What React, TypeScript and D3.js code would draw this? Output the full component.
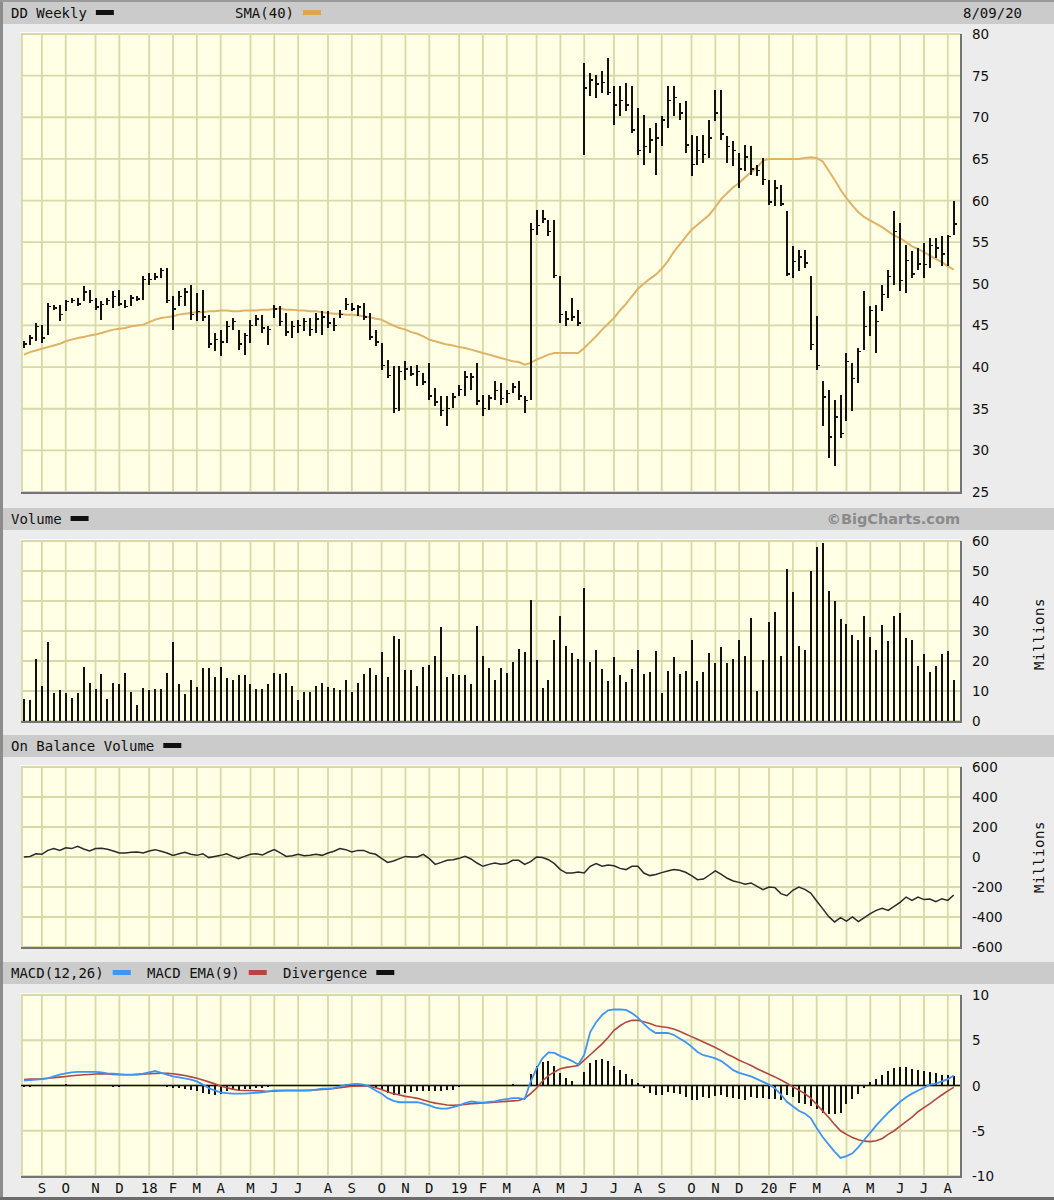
import React from 'react';
import * as d3 from 'd3';

const W = 1054;
const H = 1200;

// month tick labels and the weekly bar on which each month starts
const monthLabels = ['S', 'O', 'N', 'D', '18', 'F', 'M', 'A', 'M', 'J', 'J', 'A', 'S', 'O', 'N', 'D', '19', 'F', 'M', 'A', 'M', 'J', 'J', 'A', 'S', 'O', 'N', 'D', '20', 'F', 'M', 'A', 'M', 'J', 'J', 'A'];
const monthStart = [3, 7, 12, 16, 21, 25, 29, 33, 38, 42, 46, 51, 55, 60, 64, 68, 73, 77, 81, 86, 90, 94, 99, 103, 107, 112, 116, 120, 125, 129, 133, 138, 142, 147, 151, 155];

// weekly price bars (DD)
const high = [
  43.1, 43.9, 45.3, 45.1, 47.7, 47.5, 47.5, 48.1, 48.3, 48.3,
  49.7, 49.3, 48.3, 47.9, 48.3, 49.1, 49.3, 48.1, 48.7, 48.5,
  50.9, 51.3, 51.3, 51.9, 51.9, 48.5, 49.1, 49.5, 49.9, 48.9,
  49.3, 46.3, 44.1, 44.5, 45.5, 45.9, 44.5, 44.1, 45.7, 46.3,
  46.3, 44.9, 47.5, 47.3, 46.5, 45.5, 45.7, 45.9, 45.9, 46.5,
  46.7, 46.7, 45.9, 46.9, 48.3, 47.7, 47.5, 47.7, 46.5, 44.5,
  42.9, 40.9, 40.1, 40.1, 40.7, 40.1, 40.3, 39.3, 40.5, 37.5,
  36.5, 36.5, 36.9, 37.9, 39.5, 39.3, 40.5, 36.7, 36.7, 38.3,
  38.1, 37.3, 38.1, 38.3, 36.5, 57.3, 58.9, 58.9, 57.7, 57.7,
  50.9, 46.7, 48.3, 46.9, 76.5, 75.3, 75.1, 75.5, 77.1, 73.7,
  73.7, 74.1, 73.7, 71.1, 70.3, 68.7, 69.3, 70.1, 73.7, 73.7,
  71.7, 71.9, 67.9, 67.7, 67.9, 69.7, 73.3, 73.3, 67.7, 67.1,
  65.7, 66.7, 66.5, 64.3, 65.1, 62.5, 62.5, 61.9, 58.7, 54.5,
  54.1, 54.1, 50.9, 46.1, 38.3, 37.3, 36.1, 36.7, 41.7, 40.5,
  42.3, 49.1, 47.3, 47.5, 49.9, 51.7, 58.7, 57.3, 54.7, 53.9,
  54.3, 54.9, 55.5, 55.5, 55.7, 55.9, 59.9,
];
const low = [
  42.3, 42.7, 43.1, 42.9, 43.9, 46.9, 45.5, 46.7, 47.7, 47.3,
  47.9, 47.7, 46.9, 45.7, 47.5, 47.1, 47.3, 47.1, 47.3, 47.9,
  48.1, 49.9, 50.5, 50.7, 47.7, 44.5, 47.3, 47.3, 45.7, 45.5,
  45.5, 42.3, 41.9, 41.3, 42.9, 44.5, 42.1, 41.5, 42.9, 44.9,
  44.1, 42.7, 45.9, 44.9, 43.7, 43.5, 44.1, 44.3, 43.7, 44.1,
  43.9, 44.7, 44.3, 45.9, 46.9, 46.7, 46.1, 45.7, 43.3, 42.5,
  39.7, 38.7, 34.5, 34.7, 38.5, 38.9, 37.7, 37.9, 36.1, 35.3,
  34.1, 32.9, 35.1, 36.5, 36.5, 37.3, 35.5, 34.1, 34.9, 36.1,
  35.5, 35.7, 36.9, 36.1, 34.5, 36.1, 55.9, 57.3, 55.7, 50.7,
  45.3, 44.9, 45.5, 44.9, 65.5, 72.5, 72.3, 72.9, 72.7, 69.1,
  70.1, 70.7, 68.1, 65.5, 64.3, 65.7, 63.1, 66.5, 68.7, 70.1,
  69.7, 65.7, 62.9, 64.3, 64.5, 65.1, 69.5, 67.3, 64.5, 64.1,
  61.5, 63.5, 63.1, 62.9, 61.9, 59.5, 59.3, 59.3, 50.9, 50.7,
  51.5, 51.9, 42.1, 39.7, 32.9, 29.1, 28.1, 31.5, 33.5, 34.7,
  38.1, 42.1, 43.7, 41.7, 46.7, 48.3, 49.9, 49.1, 48.9, 50.7,
  51.7, 50.7, 51.9, 53.1, 52.1, 52.1, 55.9,
];
const close = [
  42.8, 43.5, 44.9, 43.5, 47.3, 47.1, 46.3, 47.9, 48.0, 47.6,
  49.0, 48.0, 47.2, 47.5, 48.0, 48.5, 47.6, 47.3, 48.3, 48.2,
  50.5, 50.5, 50.8, 51.6, 48.0, 47.0, 48.5, 49.0, 46.3, 46.7,
  46.0, 42.8, 43.3, 43.0, 44.9, 45.5, 42.8, 43.8, 45.0, 45.8,
  44.7, 44.5, 47.0, 45.5, 44.2, 44.9, 45.0, 45.5, 44.5, 45.8,
  46.0, 45.3, 45.0, 46.3, 47.5, 47.0, 47.2, 46.0, 43.6, 43.0,
  40.2, 39.0, 35.0, 39.5, 39.8, 39.2, 39.5, 38.2, 36.5, 35.8,
  34.8, 35.0, 36.4, 37.3, 38.8, 38.8, 35.9, 35.0, 36.3, 37.2,
  36.2, 36.8, 37.6, 36.5, 36.0, 56.5, 57.0, 57.8, 56.3, 51.0,
  46.3, 45.8, 46.0, 45.3, 73.5, 74.5, 74.0, 74.2, 73.0, 71.5,
  72.0, 71.5, 68.5, 66.0, 66.5, 67.3, 67.5, 69.7, 72.0, 72.4,
  70.5, 66.7, 64.3, 66.0, 65.5, 67.5, 70.5, 68.0, 66.5, 66.0,
  63.8, 65.2, 63.8, 63.6, 62.5, 59.8, 61.5, 59.6, 51.2, 52.7,
  53.2, 52.5, 42.7, 40.2, 36.4, 31.6, 34.0, 32.0, 40.7, 38.6,
  41.9, 44.9, 46.8, 45.5, 48.7, 50.9, 56.3, 50.4, 52.8, 51.2,
  52.4, 52.3, 54.6, 54.3, 53.6, 55.7, 57.2,
];
const sma40 = [
  41.5, 41.8, 42.0, 42.2, 42.4, 42.6, 42.8, 43.1, 43.3, 43.5,
  43.6, 43.8, 43.9, 44.1, 44.3, 44.5, 44.6, 44.7, 44.9, 45.0,
  45.1, 45.4, 45.7, 45.9, 46.0, 46.1, 46.3, 46.4, 46.5, 46.6,
  46.6, 46.7, 46.7, 46.8, 46.8, 46.7, 46.7, 46.8, 46.8, 46.8,
  46.9, 46.9, 47.0, 47.0, 46.9, 46.9, 46.8, 46.8, 46.7, 46.7,
  46.6, 46.5, 46.4, 46.4, 46.3, 46.3, 46.2, 46.1, 46.0, 45.8,
  45.7, 45.3, 45.0, 44.7, 44.5, 44.2, 44.0, 43.7, 43.3, 43.1,
  42.9, 42.7, 42.6, 42.4, 42.3, 42.1, 41.9, 41.7, 41.5, 41.3,
  41.1, 40.9, 40.7, 40.6, 40.3, 40.5, 40.9, 41.2, 41.5, 41.7,
  41.7, 41.7, 41.7, 41.7, 42.3, 43.0, 43.7, 44.5, 45.2, 45.9,
  46.8, 47.6, 48.5, 49.4, 50.0, 50.6, 51.1, 51.8, 52.7, 53.8,
  54.7, 55.6, 56.5, 57.1, 57.7, 58.3, 59.2, 60.2, 60.9, 61.6,
  62.1, 62.8, 63.4, 64.0, 64.8, 65.0, 65.0, 65.0, 65.0, 65.0,
  65.0, 65.1, 65.2, 65.1, 64.7, 63.6, 62.5, 61.3, 60.3, 59.4,
  58.6, 58.0, 57.6, 57.2, 56.8, 56.3, 55.8, 55.5, 55.0, 54.5,
  54.2, 53.8, 53.4, 53.0, 52.6, 52.1, 51.7,
];

// weekly volume, millions
const volume = [
  7.2, 6.9, 20.6, 11.7, 26.3, 9.2, 10.2, 9.2, 7.8, 9.2,
  18.1, 12.8, 10.8, 15.7, 7.2, 12.8, 12.2, 16.1, 9.8, 5.3,
  11.1, 10.2, 10.8, 10.8, 16.1, 26.3, 12.2, 8.9, 13.7, 11.3,
  17.6, 17.6, 14.7, 18.1, 14.2, 13.7, 15.2, 15.2, 12.2, 10.8,
  10.8, 12.2, 16.1, 15.7, 16.1, 11.7, 6.9, 9.8, 9.8, 11.7,
  12.8, 11.3, 11.1, 10.2, 13.7, 9.8, 12.8, 15.7, 17.6, 15.2,
  23.0, 14.7, 28.3, 27.4, 17.1, 17.1, 11.7, 18.1, 18.6, 21.6,
  31.2, 14.7, 15.7, 15.2, 15.2, 12.2, 31.7, 21.6, 17.6, 13.7,
  17.6, 16.1, 19.6, 23.9, 23.0, 40.4, 20.2, 10.9, 13.8, 27.1,
  35.0, 25.1, 22.6, 20.7, 44.3, 19.7, 23.7, 17.3, 13.3, 21.2,
  15.2, 12.9, 17.3, 23.7, 15.8, 16.3, 23.2, 9.4, 16.7, 21.2,
  15.8, 16.7, 27.1, 13.3, 16.3, 22.6, 19.3, 24.7, 19.3, 20.7,
  27.1, 21.7, 34.5, 9.9, 20.2, 33.0, 36.4, 21.7, 50.7, 42.9,
  25.1, 23.7, 49.9, 58.1, 59.4, 43.4, 39.9, 34.0, 32.5, 28.6,
  27.1, 35.0, 28.1, 23.7, 32.1, 26.7, 35.0, 36.0, 27.6, 27.1,
  18.3, 22.2, 16.3, 18.3, 22.2, 23.2, 13.8,
];

// on balance volume, millions
const obv = [
  0, 4, 22, 18, 44, 56, 44, 62, 56, 71,
  53, 40, 56, 58, 51, 40, 27, 27, 31, 33,
  27, 40, 49, 38, 27, 11, 22, 31, 18, 11,
  22, -4, 4, 11, 22, 4, -11, 4, 18, 22,
  13, 33, 49, 27, 4, 9, 18, 9, 11, 18,
  11, 27, 38, 56, 49, 33, 44, 44, 27, 18,
  -9, -36, -27, -11, 4, 0, 0, 18, -11, -49,
  -36, -22, -18, -9, 4, -13, -40, -62, -49, -40,
  -49, -44, -22, -22, -49, -31, 0, -4, -18, -44,
  -84, -107, -107, -100, -107, -62, -44, -62, -53, -58,
  -76, -84, -62, -62, -107, -124, -116, -104, -93, -84,
  -89, -102, -124, -151, -147, -120, -93, -116, -142, -160,
  -169, -182, -173, -196, -218, -200, -204, -244, -258, -222,
  -200, -216, -240, -293, -344, -396, -433, -404, -427, -400,
  -431, -404, -378, -356, -342, -356, -329, -302, -267, -289,
  -267, -284, -280, -298, -278, -289, -253,
];

// MACD(12,26), its EMA(9) and divergence
const macd = [
  0.55, 0.6, 0.65, 0.7, 0.8, 1.0, 1.2, 1.35, 1.45, 1.5,
  1.5, 1.5, 1.5, 1.45, 1.35, 1.3, 1.25, 1.2, 1.2, 1.25,
  1.3, 1.45, 1.6, 1.4, 1.2, 1.0, 0.9, 0.8, 0.65, 0.45,
  0.1, -0.3, -0.55, -0.75, -0.85, -0.9, -0.9, -0.9, -0.85, -0.8,
  -0.75, -0.65, -0.55, -0.55, -0.55, -0.55, -0.55, -0.55, -0.55, -0.45,
  -0.35, -0.35, -0.3, -0.1, 0.05, 0.15, 0.18, 0.1, -0.15, -0.55,
  -0.9, -1.4, -1.7, -1.85, -1.85, -1.85, -1.85, -2.0, -2.2, -2.45,
  -2.55, -2.55, -2.4, -2.2, -1.95, -1.75, -1.85, -1.9, -1.8, -1.75,
  -1.6, -1.5, -1.4, -1.4, -1.5, 0.4, 1.9, 3.0, 3.65, 3.6,
  3.25, 3.0, 2.7, 2.3, 3.4, 5.9, 7.0, 7.8, 8.3, 8.4,
  8.4, 8.35, 8.0, 7.5, 6.8, 6.2, 5.8, 5.8, 5.8, 5.6,
  5.2, 4.8, 4.3, 3.7, 3.35, 3.2, 3.0, 2.7, 2.2, 1.7,
  1.4, 1.2, 1.0, 0.7, 0.4, 0.1, -0.3, -1.0, -1.8, -2.3,
  -2.8, -3.1, -3.6, -4.7, -5.7, -6.5, -7.3, -8.0, -7.8, -7.5,
  -6.8, -6.0, -5.2, -4.4, -3.7, -3.0, -2.4, -1.8, -1.3, -0.9,
  -0.55, -0.25, 0.1, 0.2, 0.45, 0.7, 1.1,
];
const macdSignal = [
  0.66, 0.7, 0.72, 0.75, 0.8, 0.87, 0.93, 1.0, 1.07, 1.13,
  1.18, 1.22, 1.27, 1.3, 1.27, 1.22, 1.18, 1.18, 1.18, 1.2,
  1.25, 1.3, 1.33, 1.36, 1.36, 1.3, 1.2, 1.1, 0.95, 0.8,
  0.6, 0.4, 0.18, -0.05, -0.25, -0.4, -0.52, -0.55, -0.55, -0.58,
  -0.62, -0.66, -0.62, -0.58, -0.55, -0.55, -0.55, -0.55, -0.52, -0.5,
  -0.45, -0.4, -0.33, -0.25, -0.15, -0.07, -0.05, -0.05, -0.07, -0.25,
  -0.45, -0.7, -0.9, -1.05, -1.2, -1.3, -1.42, -1.6, -1.8, -1.95,
  -2.05, -2.15, -2.2, -2.15, -2.1, -2.0, -1.97, -1.93, -1.9, -1.85,
  -1.8, -1.75, -1.7, -1.65, -1.4, -0.9, -0.3, 0.5, 1.1, 1.5,
  1.85, 2.0, 2.1, 2.2, 2.8, 3.4, 4.0, 4.6, 5.3, 6.1,
  6.6, 7.0, 7.2, 7.2, 7.05, 6.85, 6.6, 6.5, 6.4, 6.25,
  6.0, 5.7, 5.4, 5.1, 4.8, 4.5, 4.2, 3.85, 3.45, 3.15,
  2.8, 2.5, 2.2, 1.85, 1.55, 1.25, 0.95, 0.6, 0.25, -0.15,
  -0.5, -0.9, -1.4, -2.1, -2.8, -3.5, -4.3, -5.0, -5.4, -5.75,
  -6.0, -6.15, -6.2, -6.1, -5.85, -5.4, -5.0, -4.5, -4.0, -3.5,
  -2.9, -2.45, -2.0, -1.5, -1.05, -0.6, -0.2,
];
const divergence = [
  -0.15, -0.12, -0.1, -0.1, 0, 0.05, 0.08, 0.12, 0.1, 0.1,
  0.05, 0.02, 0, -0.05, -0.1, -0.12, -0.12, -0.1, -0.08, 0,
  0.05, 0.1, 0.1, 0.02, -0.2, -0.25, -0.3, -0.35, -0.45, -0.6,
  -0.8, -0.95, -1.0, -0.9, -0.6, -0.55, -0.5, -0.4, -0.35, -0.3,
  -0.3, -0.2, -0.05, 0, 0, 0, 0, 0, -0.02, 0,
  0.05, 0.05, 0.05, 0.1, 0.15, 0.2, 0.2, 0.12, -0.1, -0.3,
  -0.55, -0.85, -1.1, -0.95, -0.8, -0.7, -0.65, -0.65, -0.65, -0.65,
  -0.6, -0.55, -0.5, -0.2, 0, 0.05, 0.05, 0.02, 0, 0,
  0.05, 0.1, 0.12, 0.1, 0.05, 1.3, 2.2, 2.6, 2.7, 2.2,
  1.4, 0.8, 0.45, 0.1, 1.5, 2.5, 2.8, 2.9, 2.7, 2.2,
  1.7, 1.3, 0.75, 0.25, -0.3, -0.8, -1.0, -1.0, -0.7, -0.8,
  -0.9, -1.3, -1.55, -1.55, -1.3, -1.4, -1.2, -1.1, -1.3, -1.4,
  -1.5, -1.55, -1.3, -1.4, -1.4, -1.5, -1.5, -1.55, -1.1, -1.3,
  -1.9, -2.05, -2.3, -2.6, -3.0, -3.2, -3.2, -3.0, -2.05, -1.5,
  -0.9, -0.3, 0.37, 0.75, 1.2, 1.56, 1.95, 2.05, 2.0, 1.87,
  1.7, 1.56, 1.5, 1.4, 1.2, 1.2, 1.1,
];

const priceTicks = [25, 30, 35, 40, 45, 50, 55, 60, 65, 70, 75, 80];
const volumeTicks = [0, 10, 20, 30, 40, 50, 60];
const obvTicks = [-600, -400, -200, 0, 200, 400, 600];
const macdTicks = [-10, -5, 0, 5, 10];

const PLOT_L = 21;
const PLOT_R = 961;
const MONO = '"DejaVu Sans Mono", monospace';
const SANS = '"DejaVu Sans", sans-serif';
const GRID = '#d8d8a8';
const PLOT_BG = '#ffffe6';
const BAR_BG = '#cbcbcb';

const x = d3.scaleLinear().domain([0, high.length - 1]).range([24, 24 + (high.length - 1) * 5.96]);

const yPrice = d3.scaleLinear().domain([25, 80]).range([492, 34]);
const yVol = d3.scaleLinear().domain([0, 60]).range([721, 541]);
const yObv = d3.scaleLinear().domain([-600, 600]).range([947, 767]);
const yMacd = d3.scaleLinear().domain([-10, 10]).range([1176, 995]);

function Plot({ y, ticks }: { y: d3.ScaleLinear<number, number>; ticks: number[] }) {
  const [b, t] = y.range();
  return (
    <g>
      <rect x={PLOT_L - 1} y={t - 2} width={PLOT_R - PLOT_L + 1} height={2} fill="#fbfbfb" />
      <rect x={PLOT_L} y={t} width={PLOT_R - PLOT_L} height={b - t} fill={PLOT_BG} />
      {ticks.map((v) => (
        <line key={'h' + v} x1={PLOT_L} x2={PLOT_R} y1={y(v)} y2={y(v)} stroke={GRID} strokeWidth={1.8} />
      ))}
      <line x1={PLOT_L + 1} x2={PLOT_L + 1} y1={t} y2={b} stroke={GRID} strokeWidth={1.8} />
      {monthStart.map((i) => (
        <line key={'v' + i} x1={x(i)} x2={x(i)} y1={t} y2={b} stroke={GRID} strokeWidth={1.8} />
      ))}
      {ticks.map((v) => (
        <text key={'t' + v} x={972} y={y(v) + 5} fontFamily={SANS} fontSize={13.5} fill="#111">
          {v}
        </text>
      ))}
    </g>
  );
}

function Frame({ y }: { y: d3.ScaleLinear<number, number> }) {
  const [b, t] = y.range();
  return (
    <g stroke="#747474" strokeWidth={2}>
      <line x1={PLOT_L} x2={PLOT_R + 1} y1={b + 1} y2={b + 1} />
      <line x1={PLOT_R} x2={PLOT_R} y1={t} y2={b + 2} />
    </g>
  );
}

function Header({ y, items }: { y: number; items: { label: string; at: number; swatch?: string }[] }) {
  return (
    <g>
      <rect x={3} y={y} width={W - 3} height={22} fill={BAR_BG} />
      {items.map((it) => (
        <g key={it.label}>
          <text x={it.at} y={y + 16} fontFamily={MONO} fontSize={14} fill="#111">
            {it.label}
          </text>
          {it.swatch && (
            <rect x={it.at + it.label.length * 8.43 + 9} y={y + 8} width={18} height={5} fill={it.swatch} />
          )}
        </g>
      ))}
    </g>
  );
}

function Millions({ cy }: { cy: number }) {
  return (
    <text
      transform={`translate(1044,${cy}) rotate(-90)`}
      textAnchor="middle"
      fontFamily={MONO}
      fontSize={14}
      letterSpacing={0.6}
      fill="#111"
    >
      Millions
    </text>
  );
}

export default function App() {
  const idx = d3.range(high.length);
  const smaLine = d3.line<number>().x((i) => x(i)).y((i) => yPrice(sma40[i]))(idx) || '';
  const obvLine = d3.line<number>().x((i) => x(i)).y((i) => yObv(obv[i]))(idx) || '';
  const macdLine = d3.line<number>().x((i) => x(i)).y((i) => yMacd(macd[i]))(idx) || '';
  const sigLine = d3.line<number>().x((i) => x(i)).y((i) => yMacd(macdSignal[i]))(idx) || '';

  return (
    <svg
      width={W}
      height={H}
      viewBox={`0 0 ${W} ${H}`}
      style={{ position: 'absolute', left: 0, top: 0, display: 'block' }}
    >
      <rect x={0} y={0} width={W} height={H} fill="#ececec" />
      <rect x={0} y={0} width={3} height={H} fill="#8c8c8c" />
      <rect x={0} y={0} width={W} height={2} fill="#9a9a9a" />
      <rect x={0} y={H - 3} width={W} height={3} fill="#6c6c6c" />

      {/* price panel */}
      <Header
        y={2}
        items={[
          { label: 'DD Weekly', at: 11, swatch: '#111' },
          { label: 'SMA(40)', at: 235, swatch: '#dca64a' },
        ]}
      />
      <text x={1022} y={18} textAnchor="end" fontFamily={MONO} fontSize={14} fill="#111">
        8/09/20
      </text>
      <Plot y={yPrice} ticks={priceTicks} />
      <path d={smaLine} fill="none" stroke="#e0b266" strokeWidth={2} />
      <g stroke="#111" shapeRendering="crispEdges">
        {idx.map((i) => (
          <g key={i}>
            <line x1={x(i)} x2={x(i)} y1={yPrice(high[i])} y2={yPrice(low[i])} strokeWidth={2} />
            <line x1={x(i)} x2={x(i) + 3} y1={yPrice(close[i])} y2={yPrice(close[i])} strokeWidth={1.5} />
          </g>
        ))}
      </g>
      <Frame y={yPrice} />

      {/* volume panel */}
      <Header y={508} items={[{ label: 'Volume', at: 11, swatch: '#111' }]} />
      <text x={960} y={524} textAnchor="end" fontFamily={SANS} fontWeight="bold" fontSize={14.5} fill="#8a8a8a">
        ©BigCharts.com
      </text>
      <Plot y={yVol} ticks={volumeTicks} />
      <g stroke="#111" strokeWidth={2} shapeRendering="crispEdges">
        {idx.map((i) => (
          <line key={i} x1={x(i)} x2={x(i)} y1={yVol(0)} y2={yVol(volume[i])} />
        ))}
      </g>
      <Frame y={yVol} />
      <Millions cy={634} />

      {/* on balance volume panel */}
      <Header y={735} items={[{ label: 'On Balance Volume', at: 11, swatch: '#111' }]} />
      <Plot y={yObv} ticks={obvTicks} />
      <path d={obvLine} fill="none" stroke="#2a2a2a" strokeWidth={1.5} />
      <Frame y={yObv} />
      <Millions cy={857} />

      {/* MACD panel */}
      <Header
        y={962}
        items={[
          { label: 'MACD(12,26)', at: 11, swatch: '#3d95f5' },
          { label: 'MACD EMA(9)', at: 147, swatch: '#b2473f' },
          { label: 'Divergence', at: 283, swatch: '#111' },
        ]}
      />
      <Plot y={yMacd} ticks={macdTicks} />
      <g stroke="#111" strokeWidth={2} shapeRendering="crispEdges">
        {idx.map((i) =>
          Math.abs(divergence[i]) > 0.01 ? (
            <line key={i} x1={x(i)} x2={x(i)} y1={yMacd(0)} y2={yMacd(divergence[i])} />
          ) : null
        )}
      </g>
      <line x1={PLOT_L} x2={PLOT_R} y1={yMacd(0)} y2={yMacd(0)} stroke="#111" strokeWidth={1.5} />
      <path d={sigLine} fill="none" stroke="#b2473f" strokeWidth={1.6} />
      <path d={macdLine} fill="none" stroke="#3d95f5" strokeWidth={1.8} />
      <Frame y={yMacd} />

      {/* month axis */}
      {monthStart.map((i, k) => (
        <text key={k} x={x(i)} y={1193} textAnchor="middle" fontFamily={MONO} fontSize={14} fill="#111">
          {monthLabels[k]}
        </text>
      ))}
    </svg>
  );
}
